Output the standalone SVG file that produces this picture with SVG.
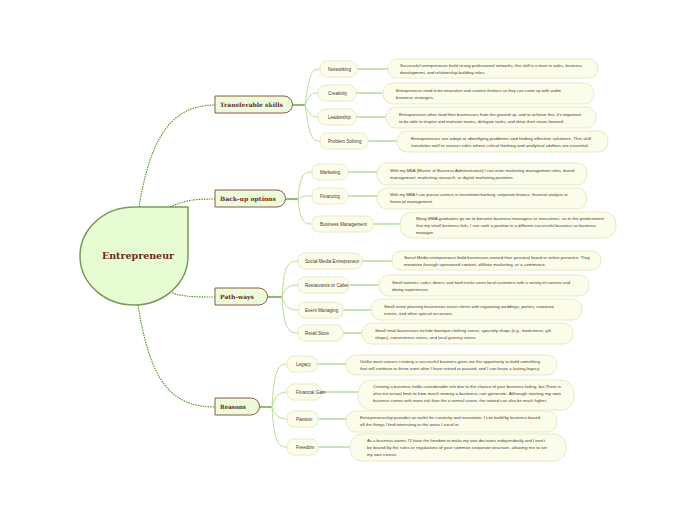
<svg xmlns="http://www.w3.org/2000/svg" width="697" height="520" viewBox="0 0 697 520">
<style>
.main path{fill:#ecfbd9;stroke:#8a5a4c;stroke-width:1}
.main text{font-family:"DejaVu Serif",serif;font-weight:bold;font-size:6px;fill:#6e2a1e}
.sub rect{fill:#fbfce9;stroke:#e6ebc4;stroke-width:1}
.sub text{font-family:"Liberation Sans",sans-serif;font-size:4.6px;fill:#4a3a30}
.det rect{fill:#fbfce9;stroke:#e6ebc4;stroke-width:1}
.det text{font-family:"Liberation Sans",sans-serif;font-size:4.3px;fill:#4a3a30}
.dot{fill:none;stroke:#5a9a2a;stroke-width:1.2;stroke-dasharray:1.5 1}
.thk{fill:none;stroke:#6aaa3a;stroke-width:1.5}
.thin{fill:none;stroke:#b8dca0;stroke-width:1}
.lnk{fill:none;stroke:#b8dca0;stroke-width:1.5}
</style>
<g id="connectors">
<path class="dot" d="M139,207 C150,140 170,105 215,105"/>
<path class="dot" d="M170,207 C185,200 195,199 215,199"/>
<path class="dot" d="M172,293 C185,297 195,297 215,297"/>
<path class="dot" d="M138,305 C150,380 170,407 215,407"/>
<path class="thk" d="M292,105 H305"/>
<path class="thin" d="M305,105 C310,70 312,69 320,69 M305,105 C310,94 312,93 318,93 M305,105 C310,116 312,117 318,117 M305,105 C310,138 312,141 320,141"/>
<path class="thk" d="M285,199 H298"/>
<path class="thin" d="M298,199 C300,175 304,172 312,172 M298,199 C302,196 305,196 312,196 M298,199 C300,222 304,224 312,224"/>
<path class="thk" d="M267,297 H282"/>
<path class="thin" d="M282,297 C284,265 288,261 298,261 M282,297 C285,287 290,285 298,285 M282,297 C285,308 290,310 298,310 M282,297 C284,328 288,333 298,333"/>
<path class="thk" d="M259,407 H272"/>
<path class="thin" d="M272,407 C274,370 278,364 287,364 M272,407 C275,395 280,392 287,392 M272,407 C275,416 280,419 287,419 M272,407 C274,442 278,447 287,447"/>
<path class="lnk" d="M357,69 H388 M356,93 H383 M356,117 H386 M368,141 H397 M348,172 H377 M348,196 H377 M373,224 H400 M362,261 H392 M349,285 H379 M343,310 H371 M343,333 H362 M317,364 H346 M321,392 H358 M318,419 H346 M318,447 H350"/>
</g>
<g id="center">
<path d="M188,207 V256 A54,49 0 1 1 134,207 Z" fill="#e7fcd2" stroke="#7a9a5e" stroke-width="1.5"/>
<text x="138" y="259" text-anchor="middle" font-family="DejaVu Serif,serif" font-weight="bold" font-size="9.5" fill="#6e2a1e">Entrepreneur</text>
</g>
<g id="transferable" class="main"><path d="M215,96 H284 A8.5,8.5 0 0 1 284,113 H215 Z"/><text x="220" y="107" textLength="63" lengthAdjust="spacingAndGlyphs">Transferable skills</text></g>
<g id="backup" class="main"><path d="M215,190 H277 A8.5,8.5 0 0 1 277,207 H215 Z"/><text x="220" y="201" textLength="56" lengthAdjust="spacingAndGlyphs">Back-up options</text></g>
<g id="pathways" class="main"><path d="M215,288 H259 A8.5,8.5 0 0 1 259,305 H215 Z"/><text x="220" y="299" textLength="34" lengthAdjust="spacingAndGlyphs">Path-ways</text></g>
<g id="reasons" class="main"><path d="M215,398 H251 A8.5,8.5 0 0 1 251,415 H215 Z"/><text x="220" y="409" textLength="26" lengthAdjust="spacingAndGlyphs">Reasons</text></g>

<g id="networking" class="sub"><rect x="320" y="61" width="37" height="16" rx="7"/><text x="328" y="71">Networking</text></g>
<g id="creativity" class="sub"><rect x="318" y="85" width="38" height="16" rx="7"/><text x="328" y="95">Creativity</text></g>
<g id="leadership" class="sub"><rect x="318" y="109" width="38" height="16" rx="7"/><text x="328" y="119">Leadership</text></g>
<g id="problem" class="sub"><rect x="320" y="133" width="48" height="16" rx="7"/><text x="328" y="143">Problem Solving</text></g>
<g id="marketing" class="sub"><rect x="312" y="164" width="36" height="16" rx="7"/><text x="320" y="174">Marketing</text></g>
<g id="financing" class="sub"><rect x="312" y="188" width="36" height="16" rx="7"/><text x="320" y="198">Financing</text></g>
<g id="bizmgmt" class="sub"><rect x="312" y="216" width="61" height="16" rx="7"/><text x="320" y="226">Business Management</text></g>
<g id="social" class="sub"><rect x="298" y="253" width="64" height="16" rx="7"/><text x="305" y="263">Social Media Entrepreneur</text></g>
<g id="restaurants" class="sub"><rect x="298" y="277" width="51" height="16" rx="7"/><text x="305" y="287">Restaurants or Cafes</text></g>
<g id="event" class="sub"><rect x="298" y="302" width="45" height="16" rx="7"/><text x="305" y="312">Event Managing</text></g>
<g id="retail" class="sub"><rect x="298" y="325" width="45" height="16" rx="7"/><text x="305" y="335">Retail Store</text></g>
<g id="legacy" class="sub"><rect x="287" y="356" width="30" height="16" rx="7"/><text x="296" y="366">Legacy</text></g>
<g id="financial" class="sub"><rect x="287" y="384" width="34" height="16" rx="7"/><text x="296" y="394">Financial Gain</text></g>
<g id="passion" class="sub"><rect x="287" y="411" width="31" height="16" rx="7"/><text x="296" y="421">Passion</text></g>
<g id="freedom" class="sub"><rect x="287" y="439" width="31" height="16" rx="7"/><text x="296" y="449">Freedom</text></g>

<g id="d-networking" class="det"><rect x="388" y="59" width="210" height="19" rx="9"/><text x="400" y="67" textLength="182" lengthAdjust="spacingAndGlyphs">Successful entrepreneurs build strong professional networks; this skill is a must in sales, business</text><text x="400" y="74">development, and relationship-building roles.</text></g>
<g id="d-creativity" class="det"><rect x="383" y="83" width="211" height="21" rx="10"/><text x="396" y="92" textLength="165" lengthAdjust="spacingAndGlyphs">Entrepreneurs need to be innovative and creative thinkers so they can come up with viable</text><text x="396" y="99">business strategies.</text></g>
<g id="d-leadership" class="det"><rect x="386" y="107" width="210" height="21" rx="10"/><text x="399" y="116" textLength="182" lengthAdjust="spacingAndGlyphs">Entrepreneurs often lead their businesses from the ground up, and to achieve this, it's important</text><text x="399" y="123" textLength="165" lengthAdjust="spacingAndGlyphs">to be able to inspire and motivate teams, delegate tasks, and drive their vision forward.</text></g>
<g id="d-problem" class="det"><rect x="397" y="131" width="211" height="21" rx="10"/><text x="411" y="140" textLength="180" lengthAdjust="spacingAndGlyphs">Entrepreneurs are adept at identifying problems and finding effective solutions. This skill</text><text x="411" y="147" textLength="178" lengthAdjust="spacingAndGlyphs">translates well to various roles where critical thinking and analytical abilities are essential.</text></g>
<g id="d-marketing" class="det"><rect x="377" y="163" width="210" height="22" rx="10"/><text x="390" y="172" textLength="184" lengthAdjust="spacingAndGlyphs">With my MBA (Master of Business Administration) I can enter marketing management roles, brand</text><text x="390" y="179" textLength="124" lengthAdjust="spacingAndGlyphs">management, marketing research, or digital marketing positions.</text></g>
<g id="d-financing" class="det"><rect x="377" y="188" width="210" height="21" rx="10"/><text x="390" y="196" textLength="178" lengthAdjust="spacingAndGlyphs">With my MBA I can pursue careers in investment banking, corporate finance, financial analysis or</text><text x="390" y="203">financial management.</text></g>
<g id="d-bizmgmt" class="det"><rect x="400" y="212" width="216" height="26" rx="12"/><text x="416" y="220" textLength="188" lengthAdjust="spacingAndGlyphs">Many MBA graduates go on to become business managers or executives, so in the predicament</text><text x="416" y="227" textLength="180" lengthAdjust="spacingAndGlyphs">that my small business fails, I can seek a position in a different successful business as business</text><text x="416" y="234">manager.</text></g>
<g id="d-social" class="det"><rect x="392" y="251" width="209" height="19" rx="9"/><text x="404" y="259" textLength="186" lengthAdjust="spacingAndGlyphs">Social Media entrepreneurs build businesses around their personal brand or online presence. They</text><text x="404" y="266" textLength="142" lengthAdjust="spacingAndGlyphs">monetize through sponsored content, affiliate marketing, or e-commerce.</text></g>
<g id="d-restaurants" class="det"><rect x="379" y="275" width="210" height="21" rx="10"/><text x="392" y="284" textLength="178" lengthAdjust="spacingAndGlyphs">Small eateries, cafes, diners, and food trucks serve local customers with a variety of cuisines and</text><text x="392" y="291">dining experiences.</text></g>
<g id="d-event" class="det"><rect x="371" y="299" width="211" height="21" rx="10"/><text x="384" y="308" textLength="170" lengthAdjust="spacingAndGlyphs">Small event planning businesses assist clients with organizing weddings, parties, corporate</text><text x="384" y="315">events, and other special occasions.</text></g>
<g id="d-retail" class="det"><rect x="362" y="323" width="211" height="21" rx="10"/><text x="375" y="332" textLength="176" lengthAdjust="spacingAndGlyphs">Small retail businesses include boutique clothing stores, specialty shops (e.g., bookstores, gift</text><text x="375" y="339">shops), convenience stores, and local grocery stores.</text></g>
<g id="d-legacy" class="det"><rect x="346" y="355" width="211" height="20" rx="10"/><text x="360" y="363" textLength="180" lengthAdjust="spacingAndGlyphs">Unlike most careers creating a successful business gives me the opportunity to build something</text><text x="360" y="370" textLength="180" lengthAdjust="spacingAndGlyphs">that will continue to thrive even after I have retired or passed, and I can leave a lasting legacy.</text></g>
<g id="d-financial" class="det"><rect x="358" y="380" width="216" height="30" rx="13"/><text x="373" y="388" textLength="188" lengthAdjust="spacingAndGlyphs">Creating a business holds considerable risk due to the chance of your business failing, but There is</text><text x="373" y="395" textLength="188" lengthAdjust="spacingAndGlyphs">also no actual limit to how much money a business can generate. Although starting my own</text><text x="373" y="402" textLength="174" lengthAdjust="spacingAndGlyphs">business comes with more risk than the a normal career, the reward can also be much higher.</text></g>
<g id="d-passion" class="det"><rect x="346" y="411" width="211" height="21" rx="10"/><text x="360" y="419" textLength="180" lengthAdjust="spacingAndGlyphs">Entrepreneurship provides an outlet for creativity and innovation. I can build by business based</text><text x="360" y="426">off the things I find interesting or the areas I excel in.</text></g>
<g id="d-freedom" class="det"><rect x="350" y="434" width="216" height="27" rx="12"/><text x="367" y="442" textLength="178" lengthAdjust="spacingAndGlyphs">As a business owner, I'll have the freedom to make my own decisions independently and I won't</text><text x="367" y="449" textLength="180" lengthAdjust="spacingAndGlyphs">be bound by the rules or regulations of your common corporate structure, allowing me to set</text><text x="367" y="456">my own course.</text></g>
</svg>
